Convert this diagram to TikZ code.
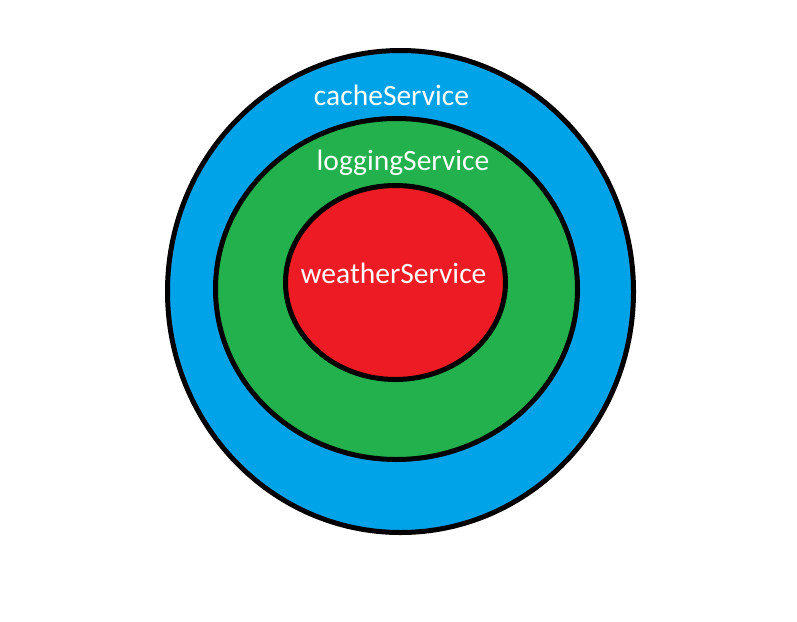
\documentclass[tikz,border=0pt]{standalone}
\usepackage{fontspec}
\setmainfont{Carlito}
\usetikzlibrary{shapes.geometric}
\definecolor{paintblue}{HTML}{00A2E8}
\definecolor{paintgreen}{HTML}{22B14C}
\definecolor{paintred}{HTML}{ED1C24}
\begin{document}
\begin{tikzpicture}[x=1pt,y=-1pt,
  ring/.style={ellipse,draw=black,line width=5pt,inner sep=0pt},
  lbl/.style={text=white,font=\fontsize{29.5}{31}\selectfont,anchor=base,inner sep=0pt}]
\useasboundingbox (0,0) rectangle (797,621);
\node[ring,fill=paintblue,minimum width=466pt,minimum height=482pt] (cache) at (400.5,291.5) {};
\node[ring,fill=paintgreen,minimum width=362pt,minimum height=341pt] (logging) at (396.5,289) {};
\node[ring,fill=paintred,minimum width=220pt,minimum height=194pt] (weather) at (395.5,282.5) {};
\node[lbl] (cachelbl) at (391.5,105) {cacheService};
\node[lbl] (logginglbl) at (403,170.5) {loggingService};
\node[lbl] (weatherlbl) at (393.5,283) {weatherService};
\end{tikzpicture}
\end{document}
